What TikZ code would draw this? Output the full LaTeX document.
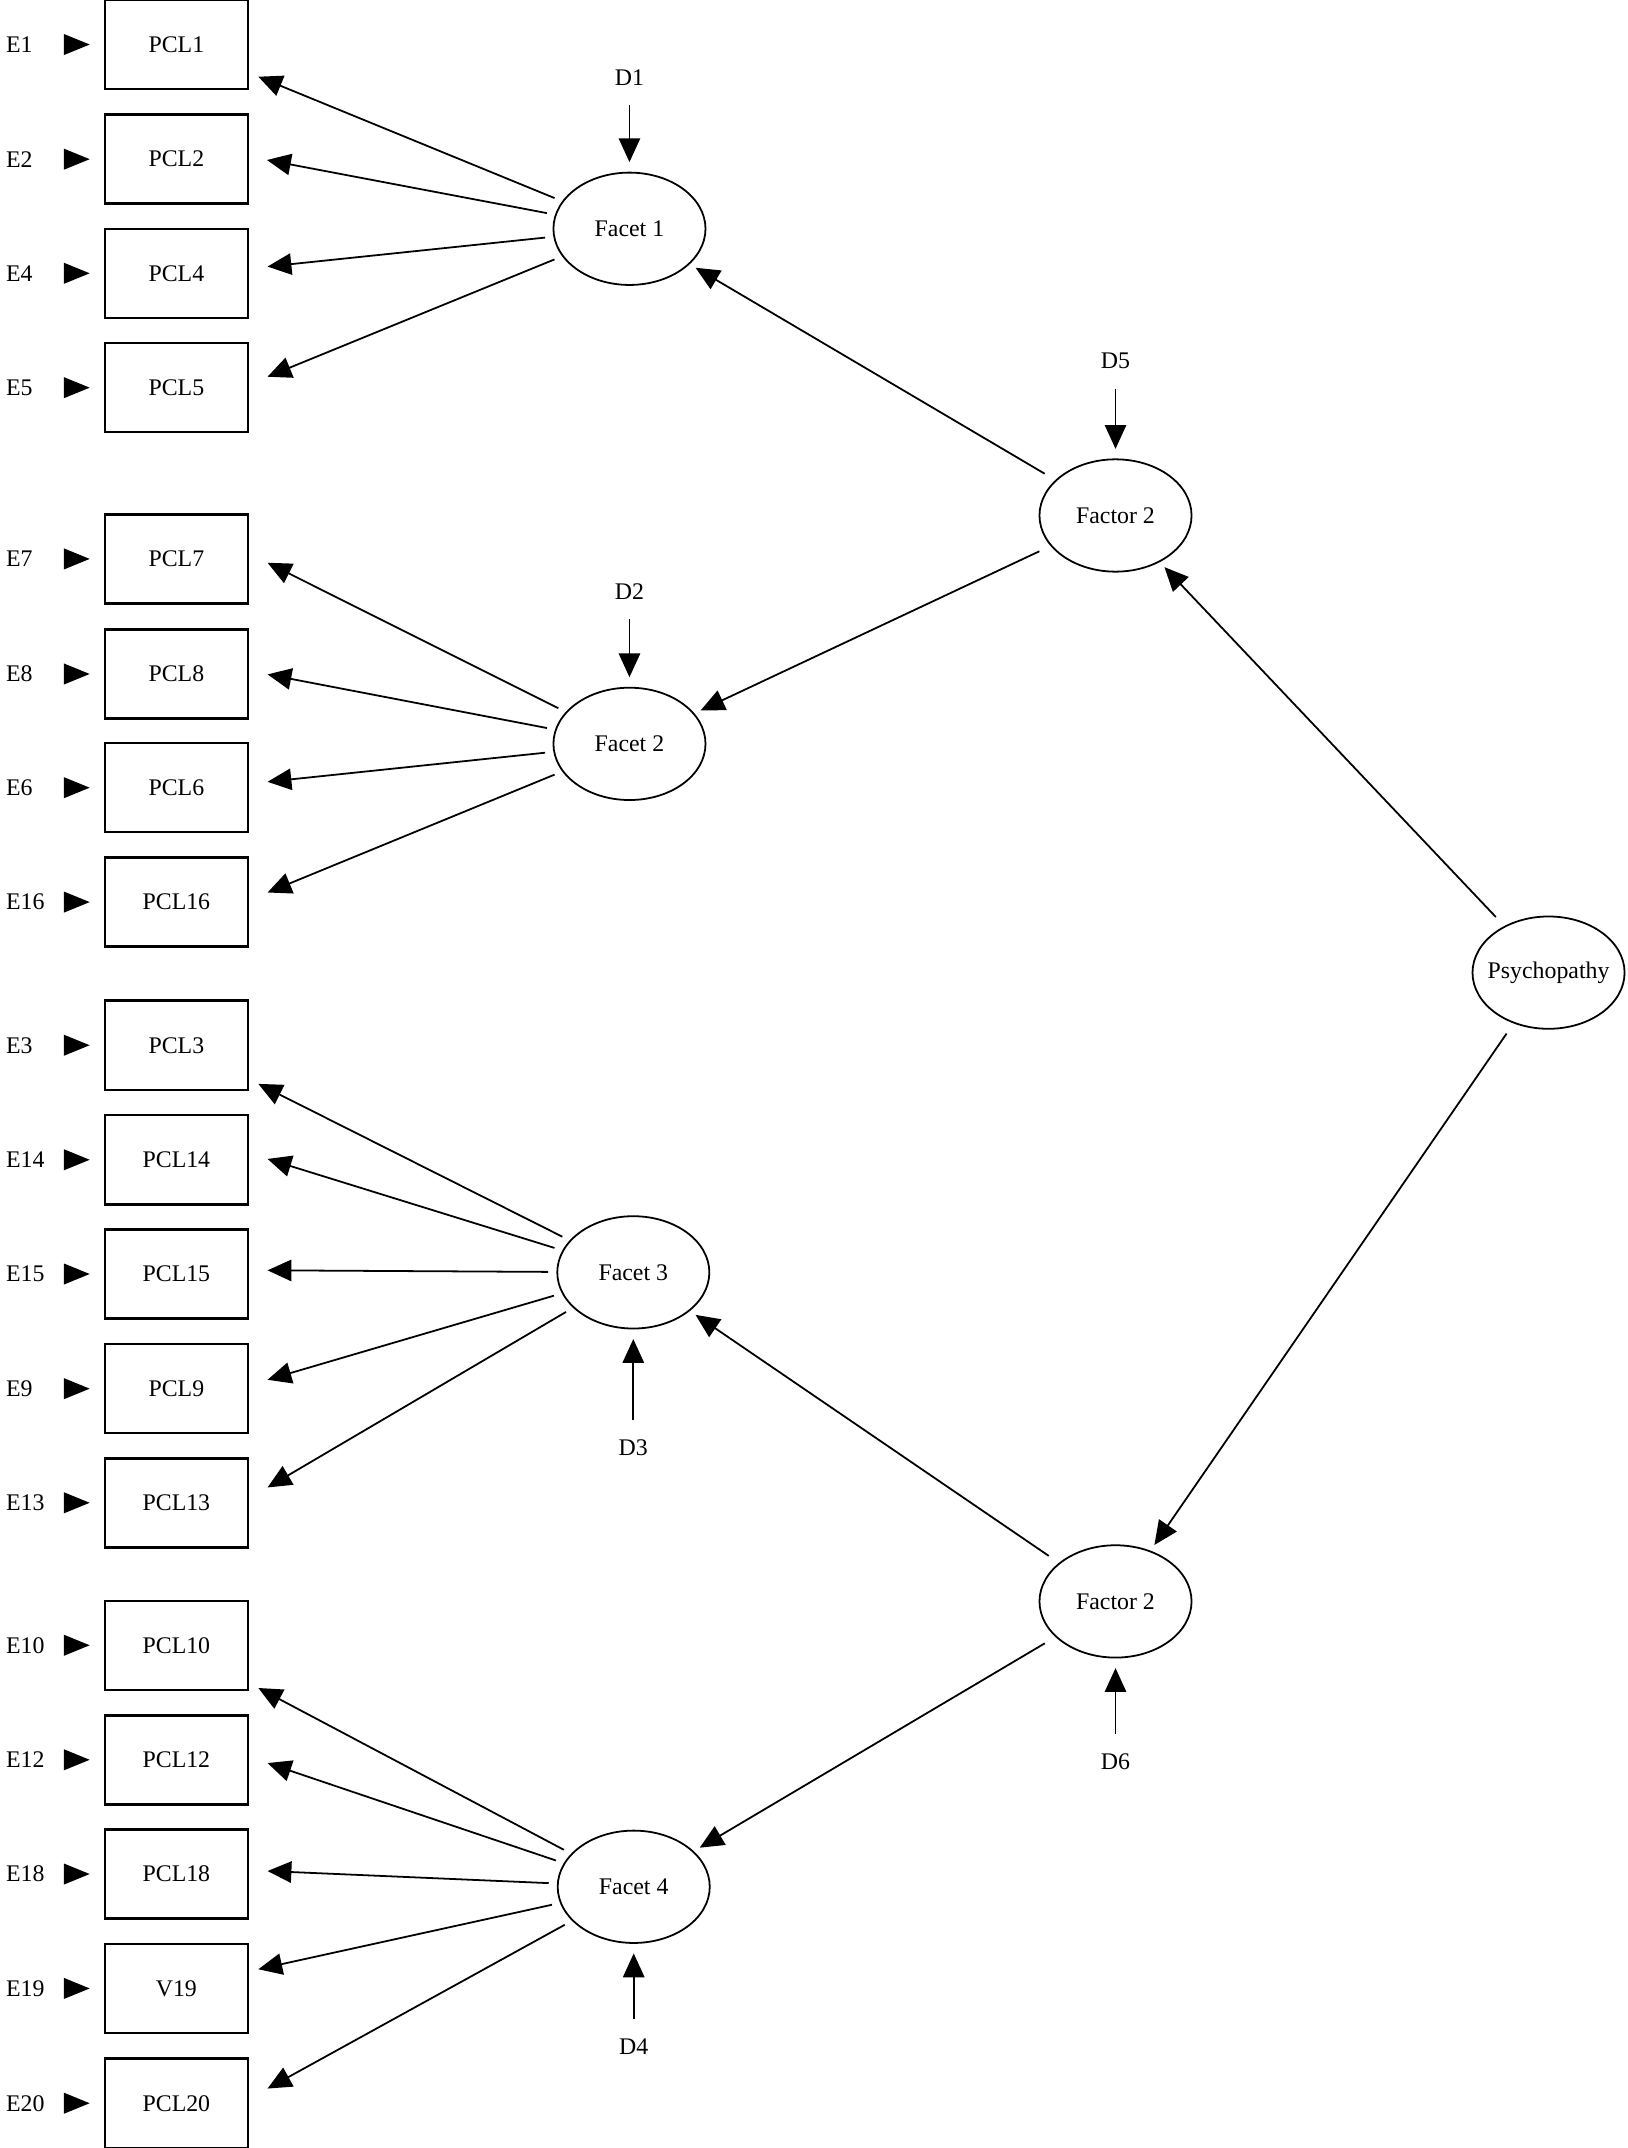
\documentclass[tikz,border=0pt]{standalone}
\usepackage{fontspec}
\setmainfont{Liberation Serif}
\usetikzlibrary{arrows.meta,shapes.geometric,calc}
\begin{document}
\begin{tikzpicture}[x=0.5pt,y=-0.5pt,
  font=\fontsize{8.7}{10}\selectfont,
  obs/.style={draw, line width=0.9pt, minimum width=52.25pt, minimum height=32.5pt, inner sep=0pt},
  lat/.style={draw, ellipse, line width=0.65pt, minimum width=55.5pt, minimum height=41pt, inner sep=0pt},
  lbl/.style={inner sep=0pt},
  arr/.style={line width=0.65pt, -{Triangle[length=8.7pt,width=7.8pt]}},
  load/.style={arr, shorten <=3pt},
  struct/.style={arr, shorten <=4.5pt, shorten >=2.5pt},
  dist/.style={arr, shorten <=7pt, shorten >=3.5pt},
  err/.style={line width=0.65pt, -{Triangle[length=9.4pt,width=7.5pt]}}
]
\useasboundingbox (0,0) rectangle (1188,1568);

% observed indicators
\foreach \n/\t/\e/\y in {
  p1/PCL1/E1/32.5, p2/PCL2/E2/116.2, p4/PCL4/E4/199.5, p5/PCL5/E5/283,
  p7/PCL7/E7/408, p8/PCL8/E8/492, p6/PCL6/E6/575, p16/PCL16/E16/658.5,
  p3/PCL3/E3/763, p14/PCL14/E14/846.6, p15/PCL15/E15/930, p9/PCL9/E9/1013.7, p13/PCL13/E13/1097,
  p10/PCL10/E10/1201, p12/PCL12/E12/1284.6, p18/PCL18/E18/1368, v19/V19/E19/1451.5, p20/PCL20/E20/1535.3}
{
  \node[obs] (\n) at (128.75,\y) {\t};
  \node[lbl, anchor=west] (e\n) at (4,\y) {\e};
  \draw[err] ([shift={(-28.9,0)}]\n.west) -- ([shift={(-10.1,0)}]\n.west);
}

% latent variables
\node[lat, label=center:Facet 1] (f1) at (459.5,167) {};
\node[lat, label=center:Facet 2] (f2) at (459.5,543) {};
\node[lat, label=center:Facet 3] (f3) at (462.3,928.8) {};
\node[lat, label=center:Facet 4] (f4) at (462.6,1377.3) {};
\node[lat, label=center:Factor 2] (fa) at (814.3,376.3) {};
\node[lat, label=center:Factor 2] (fb) at (814.3,1169) {};
\node[lat, label=center:Psychopathy] (psy) at (1130.4,710) {};

% disturbances
\node[lbl] (d1) at (459.5,56.4) {D1};
\node[lbl] (d2) at (459.5,432) {D2};
\node[lbl] (d5) at (814.3,263.5) {D5};
\node[lbl] (d3) at (462.3,1057) {D3};
\node[lbl] (d4) at (462.6,1494) {D4};
\node[lbl] (d6) at (814.3,1286) {D6};
\draw[dist] (d1) -- (f1);
\draw[dist] (d2) -- (f2);
\draw[dist] (d5) -- (fa);
\draw[dist] (d3) -- (f3);
\draw[dist] (d4) -- (f4);
\draw[dist] (d6) -- (fb);

% loadings
\foreach \f/\n/\dx/\dy in {
  f1/p1/6.7/23.5, f1/p2/13/0.6, f1/p4/13.4/-4.9, f1/p5/13.4/-8,
  f2/p7/13.4/2.8, f2/p8/13.4/0.3, f2/p6/13.4/-4.3, f2/p16/13.4/-7,
  f3/p3/6.7/28.2, f3/p14/13.4/-0.6, f3/p15/13.4/-2.7, f3/p9/13.4/-6.5, f3/p13/13.4/-11.2,
  f4/p10/6.7/31.2, f4/p12/13.4/2.4, f4/p18/13.4/-2.2, f4/v19/6.7/-14, f4/p20/13.4/-10.7}
{
  \draw[load] (\f) -- ([shift={(\dx,\dy)}]\n.east);
}

% structural paths
\draw[struct] (fa) -- (f1);
\draw[struct] (fa) -- (f2);
\draw[struct] (psy) -- (fa);
\draw[struct] (psy) -- (fb);
\draw[struct] (fb) -- (f3);
\draw[struct] (fb) -- (f4);
\end{tikzpicture}
\end{document}
